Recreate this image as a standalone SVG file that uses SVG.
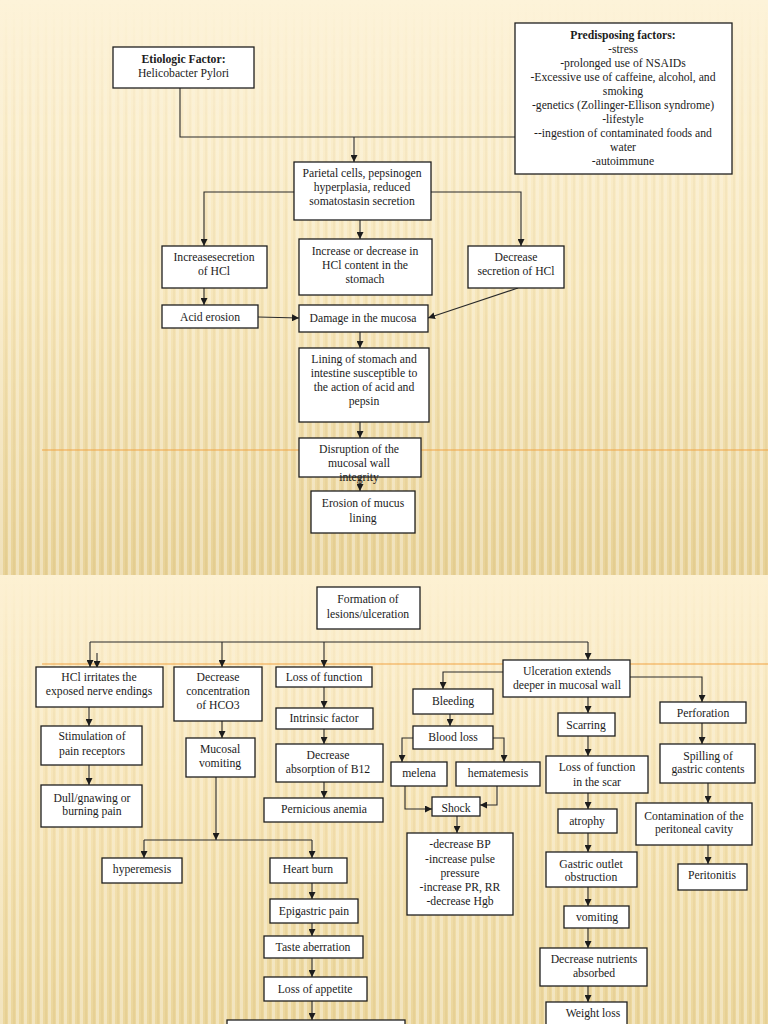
<svg xmlns="http://www.w3.org/2000/svg" width="768" height="1024" viewBox="0 0 768 1024">
<defs>
<style>
.n rect{fill:#fff;stroke:#1f1f1f;stroke-width:1.3}
.n text{font-family:"Liberation Serif","Times New Roman",serif;font-size:11.7px;fill:#1c1c1c;text-anchor:middle}
.n text.b{font-weight:bold}
#connectors line,#connectors polyline{fill:none;stroke:#2a2a2a;stroke-width:1.1}
.a{marker-end:url(#ah)}
.orange{stroke:#F2A444;stroke-width:1.2}
</style>
<marker id="ah" viewBox="0 0 8 8" refX="8" refY="4" markerWidth="7" markerHeight="7" markerUnits="userSpaceOnUse" orient="auto">
<path d="M0,0 L8,4 L0,8 z" fill="#1c1c1c"/>
</marker>
<linearGradient id="g1" x1="0" y1="0" x2="0" y2="1">
<stop offset="0" stop-color="#FDF3D9"/>
<stop offset="0.5" stop-color="#F7E7BC"/>
<stop offset="1" stop-color="#E8D297"/>
</linearGradient>
<linearGradient id="g2" x1="0" y1="0" x2="0" y2="1">
<stop offset="0" stop-color="#FDF1D3"/>
<stop offset="0.5" stop-color="#F6E4B6"/>
<stop offset="1" stop-color="#EBD69C"/>
</linearGradient>
<pattern id="stripes" width="8" height="8" patternUnits="userSpaceOnUse">
<rect x="0" y="0" width="3" height="8" fill="#ffffff" fill-opacity="0.35"/>
<rect x="5" y="0" width="2" height="8" fill="#C9A95A" fill-opacity="0.12"/>
</pattern>
<linearGradient id="fade" x1="0" y1="0" x2="0" y2="1">
<stop offset="0" stop-color="#fff" stop-opacity="0"/>
<stop offset="0.25" stop-color="#fff" stop-opacity="0.6"/>
<stop offset="1" stop-color="#fff" stop-opacity="1"/>
</linearGradient>
<mask id="m1"><rect x="0" y="0" width="768" height="575" fill="url(#fade)"/></mask>
<mask id="m2"><rect x="0" y="575" width="768" height="449" fill="url(#fade)"/></mask>
</defs>

<g id="background">
<rect x="0" y="0" width="768" height="575" fill="url(#g1)"/>
<rect x="0" y="0" width="768" height="575" fill="url(#stripes)" mask="url(#m1)"/>
<rect x="0" y="575" width="768" height="449" fill="url(#g2)"/>
<rect x="0" y="575" width="768" height="449" fill="url(#stripes)" mask="url(#m2)"/>
<line class="orange" x1="42" y1="450" x2="768" y2="450"/>
<line class="orange" x1="42" y1="664" x2="768" y2="664"/>
</g>

<g id="connectors">
<polyline points="180,88 180,137 515,137"/>
<line class="a" x1="354" y1="137" x2="354" y2="162"/>
<polyline class="a" points="294,192 204,192 204,246"/>
<polyline class="a" points="431,192 521,192 521,246"/>
<line class="a" x1="360" y1="220" x2="360" y2="239"/>
<line class="a" x1="204" y1="288" x2="204" y2="305"/>
<line class="a" x1="258" y1="317" x2="299" y2="318"/>
<line class="a" x1="518" y1="288" x2="428" y2="318"/>
<line class="a" x1="360" y1="332" x2="360" y2="348"/>
<line class="a" x1="360" y1="422" x2="360" y2="438"/>
<line class="a" x1="360" y1="477" x2="360" y2="491"/>

<line x1="90" y1="642" x2="588" y2="642"/>
<line class="a" x1="90" y1="642" x2="90" y2="667"/>
<line class="a" x1="97" y1="653" x2="97" y2="668"/>
<line class="a" x1="222" y1="642" x2="222" y2="667"/>
<line class="a" x1="324" y1="642" x2="324" y2="667"/>
<line class="a" x1="588" y1="642" x2="588" y2="660"/>
<line class="a" x1="89" y1="707" x2="89" y2="726"/>
<line class="a" x1="89" y1="765" x2="89" y2="785"/>
<line class="a" x1="222" y1="721" x2="222" y2="738"/>
<line class="a" x1="216" y1="777" x2="216" y2="840"/>
<line x1="144" y1="840" x2="312" y2="840"/>
<line class="a" x1="144" y1="840" x2="144" y2="858"/>
<line class="a" x1="312" y1="840" x2="312" y2="858"/>
<line class="a" x1="312" y1="883" x2="312" y2="899"/>
<line class="a" x1="312" y1="923" x2="312" y2="936"/>
<line class="a" x1="312" y1="958" x2="312" y2="977"/>
<line class="a" x1="312" y1="1001" x2="312" y2="1020"/>
<line class="a" x1="324" y1="687" x2="324" y2="708"/>
<line class="a" x1="324" y1="729" x2="324" y2="744"/>
<line class="a" x1="324" y1="782" x2="324" y2="798"/>
<polyline class="a" points="503,672 443,672 443,689"/>
<line class="a" x1="450" y1="714" x2="450" y2="726"/>
<polyline class="a" points="413,738 402,738 402,762"/>
<polyline class="a" points="493,738 504,738 504,762"/>
<polyline class="a" points="405,786 405,809 432,809"/>
<polyline class="a" points="497,786 497,805 480,805"/>
<line class="a" x1="457" y1="816" x2="457" y2="833"/>
<line class="a" x1="588" y1="697" x2="588" y2="713"/>
<line class="a" x1="588" y1="736" x2="588" y2="756"/>
<line class="a" x1="588" y1="793" x2="588" y2="809"/>
<line class="a" x1="588" y1="833" x2="588" y2="852"/>
<line class="a" x1="588" y1="887" x2="588" y2="906"/>
<line class="a" x1="588" y1="928" x2="588" y2="948"/>
<line class="a" x1="588" y1="986" x2="588" y2="1002"/>
<polyline class="a" points="630,677 702,677 702,702"/>
<line class="a" x1="702" y1="723" x2="702" y2="744"/>
<line class="a" x1="708" y1="783" x2="708" y2="803"/>
<line class="a" x1="708" y1="845" x2="708" y2="864"/>
</g>

<g id="etiologic" class="n"><rect x="113" y="47" width="141" height="41"/><text class="b" x="183.5" y="63">Etiologic Factor:</text><text x="183.5" y="77">Helicobacter Pylori</text></g>
<g id="predisposing" class="n"><rect x="515" y="23" width="217" height="151"/>
<text class="b" x="623" y="39">Predisposing factors:</text>
<text x="623" y="53">-stress</text>
<text x="623" y="67">-prolonged use of NSAIDs</text>
<text x="623" y="81">-Excessive use of caffeine, alcohol, and</text>
<text x="623" y="95">smoking</text>
<text x="623" y="109">-genetics (Zollinger-Ellison syndrome)</text>
<text x="623" y="123">-lifestyle</text>
<text x="623" y="137">--ingestion of contaminated foods and</text>
<text x="623" y="151">water</text>
<text x="623" y="165">-autoimmune</text></g>
<g id="parietal" class="n"><rect x="294" y="162" width="137" height="58"/><text x="362" y="177">Parietal cells, pepsinogen</text><text x="362" y="191">hyperplasia, reduced</text><text x="362" y="205">somatostasin secretion</text></g>
<g id="increase-secretion" class="n"><rect x="162" y="246" width="105" height="42"/><text x="214" y="261">Increasesecretion</text><text x="214" y="275">of HCl</text></g>
<g id="increase-decrease" class="n"><rect x="299" y="239" width="133" height="56"/><text x="365" y="255">Increase or decrease in</text><text x="365" y="269">HCl content in the</text><text x="365" y="283">stomach</text></g>
<g id="decrease-secretion" class="n"><rect x="468" y="246" width="96" height="42"/><text x="516" y="261">Decrease</text><text x="516" y="275">secretion of HCl</text></g>
<g id="acid-erosion" class="n"><rect x="162" y="305" width="96" height="23"/><text x="210" y="321">Acid erosion</text></g>
<g id="damage" class="n"><rect x="299" y="305" width="129" height="27"/><text x="363" y="322">Damage in the mucosa</text></g>
<g id="lining" class="n"><rect x="299" y="348" width="130" height="74"/><text x="364" y="363">Lining of stomach and</text><text x="364" y="377">intestine susceptible to</text><text x="364" y="391">the action of acid and</text><text x="364" y="405">pepsin</text></g>
<g id="disruption" class="n"><rect x="299" y="438" width="122" height="39"/><text x="359" y="453">Disruption of the</text><text x="359" y="467">mucosal wall</text><text x="359" y="481">integrity</text></g>
<g id="erosion-mucus" class="n"><rect x="311" y="491" width="104" height="42"/><text x="363" y="507">Erosion of mucus</text><text x="363" y="522">lining</text></g>

<g id="formation" class="n"><rect x="317" y="587" width="103" height="42"/><text x="368" y="603">Formation of</text><text x="368" y="618">lesions/ulceration</text></g>
<g id="hcl-irritates" class="n"><rect x="36" y="667" width="127" height="40"/><text x="99" y="681">HCl irritates the</text><text x="99" y="695">exposed nerve endings</text></g>
<g id="stimulation" class="n"><rect x="41" y="726" width="101" height="39"/><text x="92" y="740">Stimulation of</text><text x="92" y="755">pain receptors</text></g>
<g id="dull-pain" class="n"><rect x="41" y="785" width="101" height="42"/><text x="92" y="802">Dull/gnawing or</text><text x="92" y="815">burning pain</text></g>
<g id="decrease-hco3" class="n"><rect x="174" y="667" width="88" height="54"/><text x="218" y="681">Decrease</text><text x="218" y="695">concentration</text><text x="218" y="709">of HCO3</text></g>
<g id="mucosal-vomiting" class="n"><rect x="186" y="738" width="69" height="39"/><text x="220" y="753">Mucosal</text><text x="220" y="767">vomiting</text></g>
<g id="hyperemesis" class="n"><rect x="102" y="858" width="80" height="25"/><text x="142" y="873">hyperemesis</text></g>
<g id="heart-burn" class="n"><rect x="270" y="858" width="77" height="25"/><text x="308" y="873">Heart burn</text></g>
<g id="epigastric" class="n"><rect x="270" y="899" width="88" height="24"/><text x="314" y="915">Epigastric pain</text></g>
<g id="taste" class="n"><rect x="264" y="936" width="99" height="22"/><text x="313" y="951">Taste aberration</text></g>
<g id="appetite" class="n"><rect x="264" y="977" width="103" height="24"/><text x="315" y="993">Loss of appetite</text></g>
<g id="cutoff-box" class="n"><rect x="227" y="1020" width="178" height="20"/></g>
<g id="loss-function" class="n"><rect x="276" y="667" width="96" height="20"/><text x="324" y="681">Loss of function</text></g>
<g id="intrinsic" class="n"><rect x="276" y="708" width="97" height="21"/><text x="324" y="722">Intrinsic factor</text></g>
<g id="b12" class="n"><rect x="276" y="744" width="107" height="38"/><text x="328" y="759">Decrease</text><text x="328" y="773">absorption of B12</text></g>
<g id="pernicious" class="n"><rect x="264" y="798" width="119" height="24"/><text x="324" y="813">Pernicious anemia</text></g>
<g id="ulceration" class="n"><rect x="503" y="660" width="127" height="37"/><text x="567" y="675">Ulceration extends</text><text x="567" y="689">deeper in mucosal wall</text></g>
<g id="bleeding" class="n"><rect x="413" y="689" width="80" height="25"/><text x="453" y="705">Bleeding</text></g>
<g id="blood-loss" class="n"><rect x="413" y="726" width="80" height="23"/><text x="453" y="741">Blood loss</text></g>
<g id="melena" class="n"><rect x="391" y="762" width="56" height="24"/><text x="419" y="777">melena</text></g>
<g id="hematemesis" class="n"><rect x="456" y="762" width="84" height="24"/><text x="498" y="777">hematemesis</text></g>
<g id="shock" class="n"><rect x="432" y="797" width="48" height="19"/><text x="456" y="812">Shock</text></g>
<g id="shock-signs" class="n"><rect x="407" y="833" width="106" height="82"/><text x="460" y="848">-decrease BP</text><text x="460" y="863">-increase pulse</text><text x="460" y="877">pressure</text><text x="460" y="891">-increase PR, RR</text><text x="460" y="905">-decrease Hgb</text></g>
<g id="scarring" class="n"><rect x="558" y="713" width="57" height="23"/><text x="586" y="729">Scarring</text></g>
<g id="loss-scar" class="n"><rect x="546" y="756" width="102" height="37"/><text x="597" y="771">Loss of function</text><text x="597" y="786">in the scar</text></g>
<g id="atrophy" class="n"><rect x="558" y="809" width="59" height="24"/><text x="587" y="825">atrophy</text></g>
<g id="gastric-outlet" class="n"><rect x="546" y="852" width="91" height="35"/><text x="591" y="868">Gastric outlet</text><text x="591" y="881">obstruction</text></g>
<g id="vomiting" class="n"><rect x="564" y="906" width="65" height="22"/><text x="597" y="921">vomiting</text></g>
<g id="nutrients" class="n"><rect x="540" y="948" width="107" height="38"/><text x="594" y="963">Decrease nutrients</text><text x="594" y="977">absorbed</text></g>
<g id="weight-loss" class="n"><rect x="546" y="1002" width="81" height="30"/><text x="593" y="1017">Weight loss</text></g>
<g id="perforation" class="n"><rect x="660" y="702" width="86" height="21"/><text x="703" y="717">Perforation</text></g>
<g id="spilling" class="n"><rect x="660" y="744" width="95" height="39"/><text x="708" y="760">Spilling of</text><text x="708" y="773">gastric contents</text></g>
<g id="contamination" class="n"><rect x="636" y="803" width="116" height="42"/><text x="694" y="820">Contamination of the</text><text x="694" y="833">peritoneal cavity</text></g>
<g id="peritonitis" class="n"><rect x="678" y="864" width="69" height="26"/><text x="712" y="879">Peritonitis</text></g>
</svg>
